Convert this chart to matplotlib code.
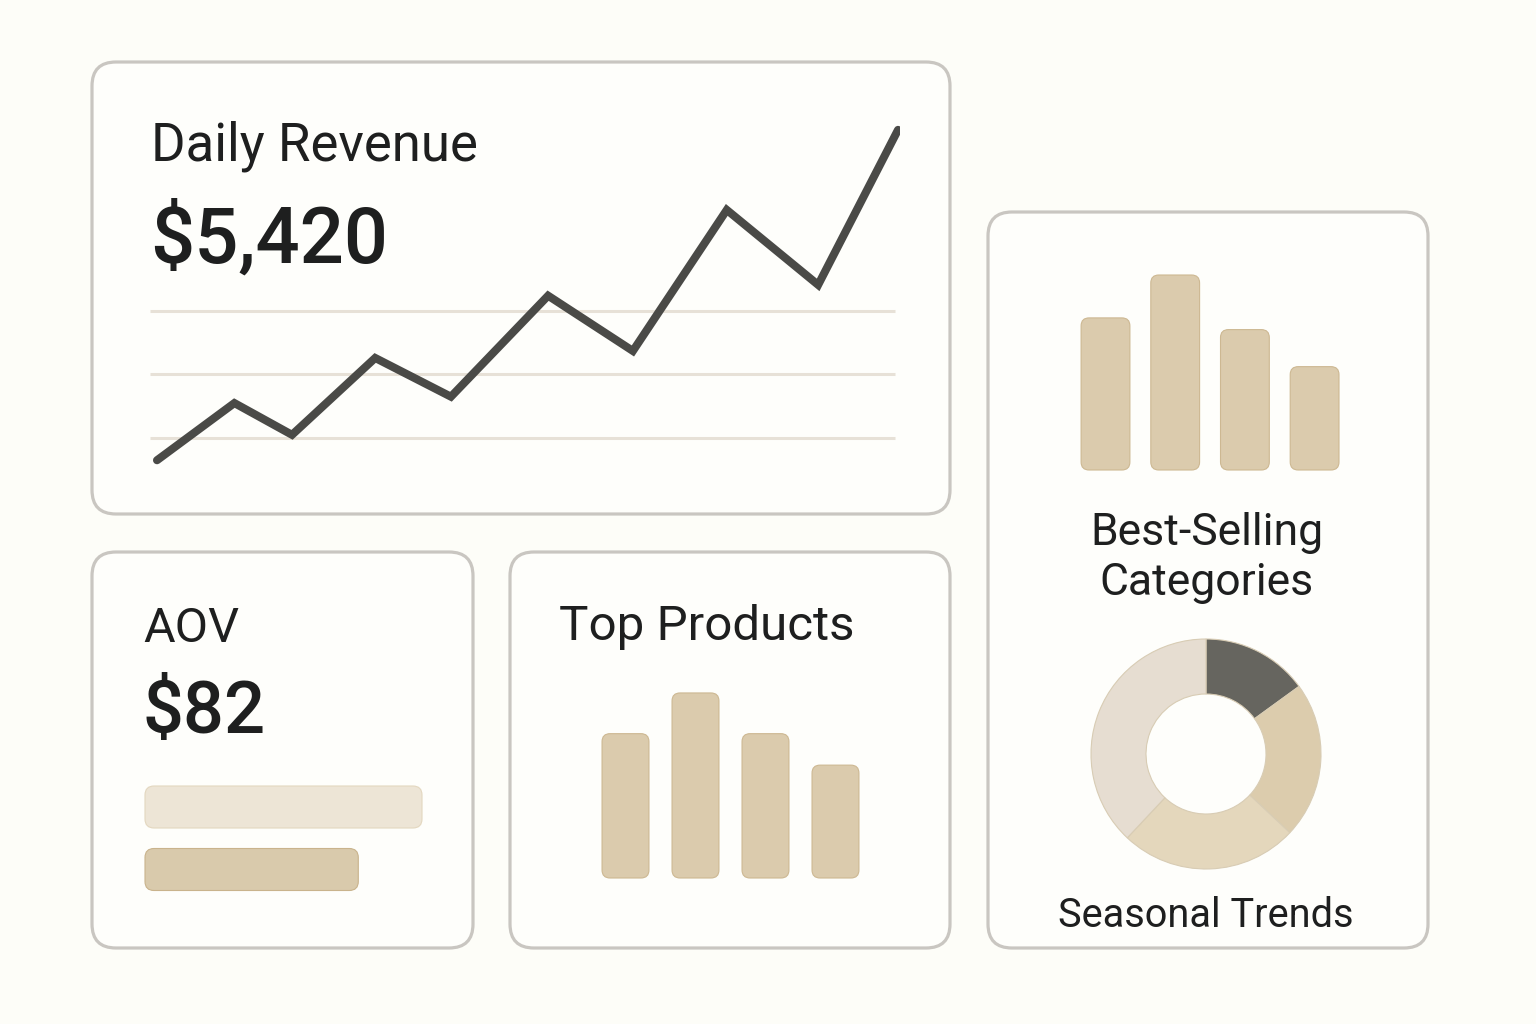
import matplotlib
matplotlib.use("Agg")
import matplotlib.pyplot as plt
from matplotlib.patches import FancyBboxPatch
from matplotlib.transforms import IdentityTransform

# ---------------- data ----------------
revenue_day = [0.0, 0.94, 1.64, 2.65, 3.57, 4.75, 5.78, 6.92, 8.03, 9.0]
revenue_val = [0.65, 1.55, 1.05, 2.26, 1.65, 3.24, 2.37, 4.59, 3.41, 5.85]
revenue_grid = [1, 2, 3]
revenue_total = "$5,420"

aov_value = "$82"
aov_bars = [100, 77]

top_products = ["P1", "P2", "P3", "P4"]
top_products_vals = [78, 100, 78, 61]

categories = ["C1", "C2", "C3", "C4"]
categories_vals = [78, 100, 72, 53]

seasons = ["S1", "S2", "S3", "S4"]
seasons_share = [15, 22, 25, 38]

# ---------------- style ----------------
W, H = 1536, 1024
BG = "#FDFDF8"
CARD_FILL = "#FEFEFB"
CARD_EDGE = "#C9C6C1"
TEXT = "#1E1F1F"
LINE = "#4A4A47"
GRID = "#E7E1D7"
BAR = "#DBCBAD"
BAR_EDGE = "#CDB892"
FONT = ["Roboto", "DejaVu Sans"]

plt.rcParams["font.family"] = FONT

fig = plt.figure(figsize=(W / 100, H / 100), dpi=100, facecolor=BG)


def ax_at(x0, y0, x1, y1, z=1):
    return fig.add_axes([x0 / W, 1 - y1 / H, (x1 - x0) / W, (y1 - y0) / H], zorder=z)


bg = ax_at(0, 0, W, H, z=0)
bg.set_xlim(0, W)
bg.set_ylim(H, 0)
bg.axis("off")

cards = [(92, 62, 950, 514), (92, 552, 473, 948), (510, 552, 950, 948), (988, 212, 1428, 948)]
for x0, y0, x1, y1 in cards:
    bg.add_patch(FancyBboxPatch((x0, y0), x1 - x0, y1 - y0,
                                boxstyle="round,pad=0,rounding_size=24",
                                facecolor=CARD_FILL, edgecolor=CARD_EDGE, linewidth=2.3))

# texts
bg.text(151, 160, "Daily Revenue", fontsize=38, color=TEXT, va="baseline", ha="left")
bg.text(150, 263, revenue_total, fontsize=56, fontweight="medium", color=TEXT, va="baseline", ha="left")
bg.text(143, 642, "AOV", fontsize=35, color=TEXT, va="baseline", ha="left")
bg.text(143, 733, aov_value, fontsize=52, fontweight="medium", color=TEXT, va="baseline", ha="left")
bg.text(559, 640, "Top Products", fontsize=35.5, color=TEXT, va="baseline", ha="left")
bg.text(1207, 545, "Best-Selling", fontsize=32, color=TEXT, va="baseline", ha="center")
bg.text(1207, 595, "Categories", fontsize=32, color=TEXT, va="baseline", ha="center")
bg.text(1206, 927, "Seasonal Trends", fontsize=28.6, color=TEXT, va="baseline", ha="center")


def round_bars(ax, bars, radius, face, edge):
    fig.canvas.draw()
    for b in bars:
        bb = b.get_window_extent()
        b.set_visible(False)
        p = FancyBboxPatch((bb.x0, bb.y0), bb.width, bb.height,
                           boxstyle=f"round,pad=0,rounding_size={radius}",
                           transform=IdentityTransform(), facecolor=face,
                           edgecolor=edge, linewidth=0.8, zorder=3)
        fig.add_artist(p)


# ---- Daily revenue line ----
ax1 = ax_at(150, 100, 900, 480)
ax1.set_xlim(-0.085, 9.024)
ax1.set_ylim(0.339, 6.32)
ax1.axis("off")
ax1.hlines(revenue_grid, -0.085, 8.96, colors=GRID, linewidth=2.2, zorder=1)
ax1.plot(revenue_day, revenue_val, color=LINE, linewidth=5.8,
         solid_capstyle="round", solid_joinstyle="miter", zorder=2)

# ---- AOV bars ----
ax2 = ax_at(145, 760, 435, 920)
ax2.set_xlim(0, 100 * 290 / 277)
ax2.set_ylim((920 - 807) / 62.5, -(807 - 760) / 62.5)
ax2.axis("off")
aov_b = ax2.barh([0, 1], aov_bars, height=0.672, color=["#EDE5D6", "#D9CAAC"])

# ---- Top products ----
ax3 = ax_at(580, 680, 880, 878)
ax3.set_xlim(-0.65, 3.636)
ax3.set_ylim(0, 107)
ax3.axis("off")
tp_b = ax3.bar(range(len(top_products)), top_products_vals, width=0.67, color=BAR)

# ---- Best-selling categories ----
ax4 = ax_at(1060, 260, 1360, 470)
ax4.set_xlim(-(1105.5 - 1060) / 69.7, (1360 - 1105.5) / 69.7)
ax4.set_ylim(0, 100 * 210 / 195)
ax4.axis("off")
bs_b = ax4.bar(range(len(categories)), categories_vals, width=0.70, color=BAR)

# ---- Seasonal donut ----
ax5 = ax_at(1091, 639, 1321, 869)
ax5.pie(seasons_share, startangle=90, counterclock=False, radius=1,
        colors=["#66655F", "#DCCCAD", "#E4D7BC", "#E6DDD1"],
        wedgeprops=dict(width=1 - 60 / 115, edgecolor="#D8CCB4", linewidth=0.8))
ax5.set_xlim(-1, 1)
ax5.set_ylim(-1, 1)
ax5.axis("off")

round_bars(ax2, [aov_b[0]], 9, "#EDE5D6", "#E3D7BF")
round_bars(ax2, [aov_b[1]], 9, "#D9CAAC", "#C9B38C")
round_bars(ax3, tp_b, 8, BAR, BAR_EDGE)
round_bars(ax4, bs_b, 8, BAR, BAR_EDGE)

fig.savefig("out.png", dpi=100, facecolor=BG)
